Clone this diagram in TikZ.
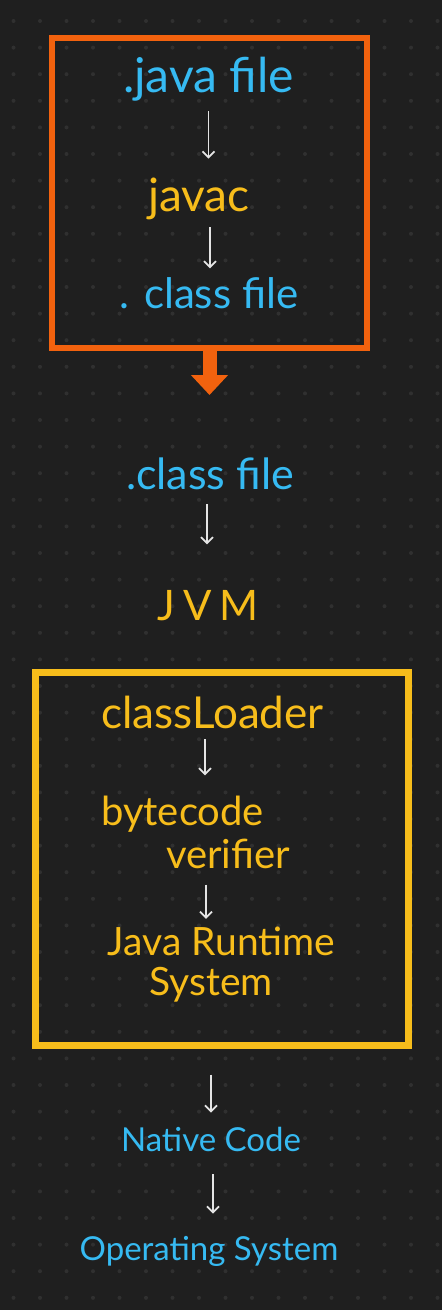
\documentclass[tikz,border=0pt]{standalone}
\usepackage{fontspec}
\setmainfont{Lato}
\usetikzlibrary{arrows.meta,positioning}
\definecolor{bg}{HTML}{1F1F1F}
\definecolor{dotc}{HTML}{303030}
\definecolor{sky}{HTML}{36BAF2}
\definecolor{amber}{HTML}{F7BD1B}
\definecolor{flame}{HTML}{F2620E}
\definecolor{chalk}{HTML}{E4E4E4}
\newcommand{\fs}[1]{\fontsize{#1}{#1}\selectfont}
\begin{document}
\begin{tikzpicture}[x=1pt,y=-1pt,
  bl/.style={text=sky,inner sep=0pt,font=\fs{#1},text height=0.72*#1pt,text depth=0.2*#1pt},
  yl/.style={bl=#1,text=amber},
  ar/.style={draw=chalk,line width=1.8pt,-{Straight Barb[length=6pt,width=12pt]}},
  frame/.style={draw,line width=6pt,line cap=round,inner sep=0pt}]

\useasboundingbox[fill=bg] (0,0) rectangle (442,1310);
\foreach \i in {0,...,16}
  \foreach \j in {0,...,48}
    \fill[dotc] (13.5+26.5*\i, 21+26.6*\j) circle (2);

% compile step
\node[frame,draw=flame,minimum width=315pt,minimum height=310pt] (obox) at (209.5,193) {};
\node[bl=48] (java) at (208.5,80) {.java file};
\node[yl=46] (javac) at (199,200) {javac};
\node[bl=42] (cls1) at (209,298) {. class file};
\path[ar,shorten <=9pt,shorten >=20pt] (java.south) -- (java.south |- javac.north);
\path[ar,shorten <=6pt,shorten >=10pt] ([xshift=11pt]javac.south) -- ([xshift=11pt]javac.south |- cls1.north);
\path[draw=flame,line width=14pt,-{Triangle[width=36pt,length=20pt]}] (obox.south) -- ++(0,44);

% runtime
\node[bl=43] (cls2) at (210,478) {.class file};
\node[yl=42,font=\fs{42}\addfontfeature{LetterSpace=18}] (jvm) at (208,610) {JVM};
\path[ar,shorten <=6pt,shorten >=46pt] ([xshift=-3pt]cls2.south) -- ([xshift=-3pt]cls2.south |- jvm.north);

\node[frame,draw=amber,line width=7pt,minimum width=373pt,minimum height=373pt] (ybox) at (221.5,858.5) {};
\node[yl=44] (loader) at (212.5,717) {classLoader};
\node[yl=40] (byte) at (182.5,815) {bytecode};
\node[yl=40] (verif) at (228,858) {verifier};
\node[yl=39] (jrt) at (221.5,945) {Java Runtime};
\node[yl=39] (sys) at (211,985) {System};
\path[ar,shorten <=2pt,shorten >=21pt] ([xshift=-7.5pt]loader.south) -- ([xshift=-7.5pt]loader.south |- byte.north);
\path[ar,shorten <=8pt,shorten >=8pt] ([xshift=-22pt]verif.south) -- ([xshift=-22pt]verif.south |- jrt.north);

\node[bl=33] (native) at (211,1143) {Native Code};
\node[bl=33] (os) at (209,1252) {Operating System};
\path[ar,shorten <=26pt,shorten >=15pt] (ybox.south -| native) -- (native.north);
\path[ar,shorten <=16pt,shorten >=23pt] ([xshift=2pt]native.south) -- ([xshift=2pt]native.south |- os.north);

\end{tikzpicture}
\end{document}
